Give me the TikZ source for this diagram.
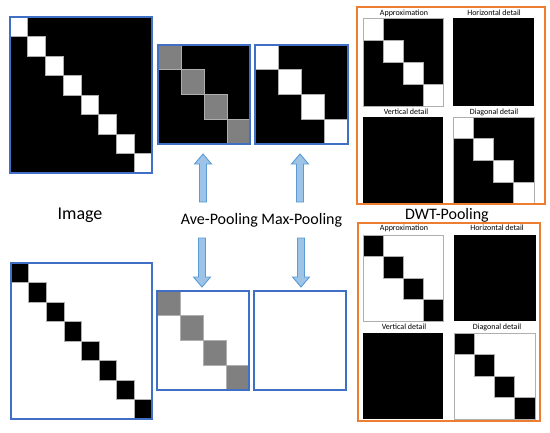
\documentclass[tikz,border=0pt]{standalone}
\usepackage{fontspec}
\setmainfont{Carlito}
\definecolor{frameblue}{RGB}{64,112,198}
\definecolor{arrowfill}{RGB}{157,195,230}
\definecolor{arrowline}{RGB}{91,155,213}
\definecolor{dwtorange}{RGB}{237,125,49}
\definecolor{midgray}{RGB}{128,128,128}
\definecolor{edgegray}{RGB}{175,175,175}
% #1,#2 top-left; #3,#4 bottom-right; #5 n; #6 bg; #7 fg
\newcommand\diagpat[7]{%
  \fill[#6] (#1,#2) rectangle (#3,#4);
  \pgfmathtruncatemacro\nmo{#5-1}%
  \foreach \k in {0,...,\nmo}{%
    \filldraw[fill=#7,draw=edgegray,line width=0.6pt]
      ({#1+(#3-#1)*\k/#5},{#2+(#4-#2)*\k/#5}) rectangle
      ({#1+(#3-#1)*(\k+1)/#5},{#2+(#4-#2)*(\k+1)/#5});
  }%
}
\tikzset{
  bluebox/.style={draw=frameblue,line width=2pt},
  orangebox/.style={draw=dwtorange,line width=2.5pt},
  panelframe/.style={draw=edgegray,line width=0.8pt},
  blockarrow/.style={fill=arrowfill,draw=arrowline,line width=0.9pt,line join=miter},
  biglabel/.style={font=\fontsize{16}{18}\selectfont,inner sep=0pt},
  smalllabel/.style={font=\fontsize{8}{9}\selectfont,inner sep=0pt}
}
% up arrow: #1 x, #2 tail y, #3 tip y
\newcommand\uparr[3]{%
  \filldraw[blockarrow] (#1-3.5,#2) -- (#1-3.5,#3+10) -- (#1-8.5,#3+10) -- (#1,#3)
    -- (#1+8.5,#3+10) -- (#1+3.5,#3+10) -- (#1+3.5,#2) -- cycle;}
\newcommand\downarr[3]{%
  \filldraw[blockarrow] (#1-3.5,#2) -- (#1-3.5,#3-10) -- (#1-8.5,#3-10) -- (#1,#3)
    -- (#1+8.5,#3-10) -- (#1+3.5,#3-10) -- (#1+3.5,#2) -- cycle;}
\begin{document}
\begin{tikzpicture}[x=1pt,y=-1pt]
\useasboundingbox[fill=white] (0,0) rectangle (550,432);
% original images
\diagpat{10}{17}{152}{173}{8}{black}{white}
\draw[bluebox] (10,17) rectangle (152,173);
\diagpat{11}{263}{152}{419}{8}{white}{black}
\draw[bluebox] (11,263) rectangle (152,419);
% pooled (top)
\diagpat{158}{45}{250}{144}{4}{black}{midgray}
\draw[bluebox] (158,45) rectangle (250,144);
\diagpat{255}{45}{348}{144}{4}{black}{white}
\draw[bluebox] (255,45) rectangle (348,144);
% pooled (bottom)
\diagpat{157}{291}{249}{390}{4}{white}{midgray}
\draw[bluebox] (157,291) rectangle (249,390);
\fill[white] (254,291) rectangle (346,390);
\draw[bluebox] (254,291) rectangle (346,390);
% arrows
\uparr{203}{202}{154}
\uparr{300}{202}{154}
\downarr{202}{238}{287}
\downarr{301}{238}{287}
% labels
\node[font=\fontsize{18}{20}\selectfont,inner sep=0pt] (lblimage) at (80,215) {Image};
\node[biglabel] (lblpool) at (261.5,220) {Ave-Pooling Max-Pooling};
\node[biglabel] (lbldwt) at (447,215) {DWT-Pooling};
% DWT top
\diagpat{363}{18}{443}{106}{4}{black}{white}
\draw[panelframe] (363,18) rectangle (443,106);
\fill[black] (453,18) rectangle (534,106);
\fill[black] (363,117) rectangle (443,204);
\diagpat{453}{117}{534}{204}{4}{black}{white}
\draw[panelframe] (453,117) rectangle (534,204);
\node[smalllabel] (ta) at (404,13) {Approximation};
\node[smalllabel] (th) at (494,13) {Horizontal detail};
\node[smalllabel] (tv) at (406,112) {Vertical detail};
\node[smalllabel] (td) at (494,112) {Diagonal detail};
\draw[orangebox] (357,7) rectangle (545,204);
% DWT bottom
\diagpat{363}{235}{443}{321}{4}{white}{black}
\draw[panelframe] (363,235) rectangle (443,321);
\fill[black] (454,235) rectangle (536,321);
\fill[black] (363,333) rectangle (443,419);
\diagpat{454}{333}{535}{419}{4}{white}{black}
\draw[panelframe] (454,333) rectangle (535,419);
\node[smalllabel] (ba) at (404,228) {Approximation};
\node[smalllabel] (bh) at (497,228) {Horizontal detail};
\node[smalllabel] (bv) at (404,327) {Vertical detail};
\node[smalllabel] (bd) at (497,327) {Diagonal detail};
\draw[orangebox] (358,223) rectangle (540,421);
\end{tikzpicture}
\end{document}
